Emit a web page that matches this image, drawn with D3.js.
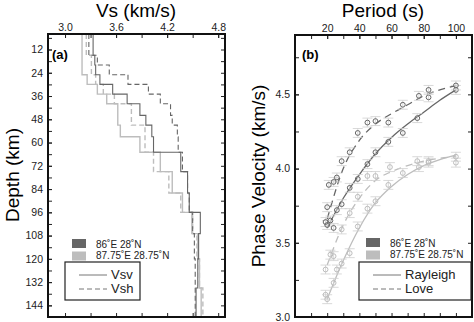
<!DOCTYPE html>
<html>
<head>
<meta charset="utf-8">
<script src="https://cdn.jsdelivr.net/npm/d3@7"></script>
<style>
body { margin: 0; background: #fff; }
svg { font-family: "Liberation Sans", Arial, sans-serif; }
</style>
</head>
<body>
<svg width="474" height="322"></svg>
<script>
// ---- panel (a) : Vs profiles (layer tops in km, velocities in km/s)
var layerTops = [4, 15, 20, 25, 30, 35, 40, 46, 51, 57, 65, 75, 86, 96, 107, 120, 135];
var layerBottom = 150;
var vsvSite1 = [3.33, 3.35, 3.36, 3.41, 3.56, 3.73, 3.88, 3.95, 4.02, 4.04, 4.36, 4.44, 4.46, 4.59, 4.57, 4.56, 4.54];
var vshSite1 = [3.28, 3.38, 3.52, 3.74, 3.98, 4.12, 4.24, 4.26, 4.32, 4.33, 4.38, 4.44, 4.46, 4.50, 4.52, 4.53, 4.53];
var vsvSite2 = [3.20, 3.20, 3.20, 3.26, 3.38, 3.49, 3.62, 3.62, 3.65, 3.88, 4.12, 4.26, 4.38, 4.49, 4.56, 4.58, 4.60];
var vshSite2 = [3.25, 3.31, 3.31, 3.36, 3.45, 3.58, 3.78, 3.78, 3.94, 3.94, 4.04, 4.22, 4.36, 4.50, 4.55, 4.58, 4.62];
var vsMajor = [3.0, 3.6, 4.2, 4.8];
var vsMinor = [3.0, 3.3, 3.6, 3.9, 4.2, 4.5, 4.8];
var depthMajor = [12, 24, 36, 48, 60, 72, 84, 96, 108, 120, 132, 144];
var depthMinor = d3.range(6, 150, 6);

// ---- panel (b) : phase velocity dispersion
var loveP1 = [20, 21, 24, 26, 29, 34, 39, 45, 50, 58, 67, 77, 83, 100];
var loveV1 = [3.74, 3.89, 3.91, 3.94, 4.05, 4.11, 4.24, 4.31, 4.32, 4.31, 4.43, 4.49, 4.53, 4.56];
var rayP1 = [19, 20, 22, 24, 26, 29, 34, 39, 45, 50, 58, 67, 76, 83, 100];
var rayV1 = [3.64, 3.62, 3.65, 3.60, 3.72, 3.76, 3.87, 3.93, 4.03, 4.11, 4.18, 4.24, 4.34, 4.48, 4.53];
var loveP2 = [19, 22, 24, 29, 34, 39, 45, 50, 59, 76, 83, 100];
var loveV2 = [3.32, 3.42, 3.41, 3.59, 3.70, 3.81, 3.95, 3.95, 4.01, 4.05, 4.05, 4.08];
var rayP2 = [19, 20, 24, 26, 29, 34, 39, 45, 50, 58, 67, 77, 83, 100];
var rayV2 = [3.15, 3.12, 3.23, 3.32, 3.36, 3.43, 3.61, 3.73, 3.78, 3.89, 3.97, 4.01, 4.04, 4.04];
var phaseErr = 0.03;
// smooth fitted (predicted) curves
var fitP = [20, 30, 40, 50, 60, 70, 80, 90, 100];
var fitLove1 = [3.66, 4.00, 4.19, 4.30, 4.37, 4.43, 4.49, 4.53, 4.56];
var fitRay1 = [3.60, 3.80, 3.96, 4.10, 4.21, 4.30, 4.38, 4.46, 4.53];
var fitLove2 = [3.35, 3.62, 3.80, 3.92, 3.98, 4.02, 4.05, 4.07, 4.08];
var fitRay2 = [3.12, 3.38, 3.60, 3.77, 3.88, 3.96, 4.02, 4.06, 4.09];
var periodMajor = [20, 40, 60, 80, 100];
var periodMinor = d3.range(10, 110, 10);
var phaseMajor = [3.0, 3.5, 4.0, 4.5];
var phaseMinor = [3.0, 3.25, 3.5, 3.75, 4.0, 4.25, 4.5, 4.75];

var siteLabels = ["86˚E 28˚N", "87.75˚E 28.75˚N"];
var dark = "#666", light = "#bdbdbd";

var svg = d3.select("svg");

function frame(g, x, y, xMaj, xMin, yMaj, yMin, xFmt, yFmt) {
    var x0 = x.range()[0], x1 = x.range()[1];
    var y0 = d3.min(y.range()), y1 = d3.max(y.range());
    g.append("g").attr("transform", "translate(0," + y0 + ")")
        .call(d3.axisTop(x).tickValues(xMin).tickSize(-4).tickFormat(""));
    g.append("g").attr("transform", "translate(0," + y0 + ")")
        .call(d3.axisTop(x).tickValues(xMaj).tickSize(-4).tickPadding(3).tickFormat(xFmt));
    g.append("g").attr("transform", "translate(0," + y1 + ")")
        .call(d3.axisBottom(x).tickValues(xMin).tickSize(-4).tickFormat(""));
    g.append("g").attr("transform", "translate(" + x0 + ",0)")
        .call(d3.axisLeft(y).tickValues(yMin).tickSize(-4).tickFormat(""));
    g.append("g").attr("transform", "translate(" + x0 + ",0)")
        .call(d3.axisLeft(y).tickValues(yMaj).tickSize(-4).tickPadding(5).tickFormat(yFmt));
    g.append("g").attr("transform", "translate(" + x1 + ",0)")
        .call(d3.axisRight(y).tickValues(yMin).tickSize(-4).tickFormat(""));
    g.selectAll(".domain").remove();
    g.selectAll(".tick line").attr("stroke", "#222");
    g.selectAll(".tick text").attr("font-size", 10.5).attr("fill", "#222")
        .attr("font-family", "Liberation Sans, Arial, sans-serif");
    g.append("rect").attr("x", x0).attr("y", y0)
        .attr("width", x1 - x0).attr("height", y1 - y0)
        .attr("fill", "none").attr("stroke", "#111").attr("stroke-width", 2);
}

function legend(g, sx, sy, bx, by, bw, labels) {
    [dark, light].forEach(function(c, i) {
        g.append("rect").attr("x", sx).attr("y", sy + i * 12.5)
            .attr("width", 14).attr("height", 9).attr("fill", c);
        g.append("text").attr("x", sx + 24).attr("y", sy + 8.5 + i * 11)
            .attr("font-size", 10).attr("fill", "#222").text(siteLabels[i]);
    });
    g.append("rect").attr("x", bx).attr("y", by).attr("width", bw).attr("height", 38)
        .attr("fill", "#fff").attr("stroke", "#222").attr("stroke-width", 1.2);
    labels.forEach(function(t, i) {
        g.append("line").attr("x1", bx + 14).attr("x2", bx + 42)
            .attr("y1", by + 13 + i * 14).attr("y2", by + 13 + i * 14)
            .attr("stroke", "#777").attr("stroke-width", 1)
            .attr("stroke-dasharray", i ? "5,3" : null);
        g.append("text").attr("x", bx + 46).attr("y", by + 17 + i * 14)
            .attr("font-size", 13).attr("fill", "#222").text(t);
    });
}

// ---------------- panel (a)
var xA = d3.scaleLinear().domain([2.8, 4.88]).range([48, 225]);
var yA = d3.scaleLinear().domain([4, 150]).range([34, 317]);
var gA = svg.append("g");

var profLine = d3.line().x(function(d) { return xA(d[0]); }).y(function(d) { return yA(d[1]); });
function steps(vals) {
    var pts = [];
    vals.forEach(function(v, i) {
        var bot = i + 1 < layerTops.length ? layerTops[i + 1] : layerBottom;
        pts.push([v, layerTops[i]], [v, bot]);
    });
    return pts;
}
[[vsvSite2, light, null, 1.4], [vshSite2, light, "5,3", 1.4],
 [vsvSite1, dark, null, 1.1], [vshSite1, dark, "5,3", 1.1]].forEach(function(p) {
    gA.append("path").attr("d", profLine(steps(p[0])))
        .attr("fill", "none").attr("stroke", p[1]).attr("stroke-width", p[3])
        .attr("stroke-dasharray", p[2]);
});
frame(gA, xA, yA, vsMajor, vsMinor, depthMajor, depthMinor, d3.format(".1f"), d3.format("d"));
legend(gA, 72, 239, 65, 262, 75, ["Vsv", "Vsh"]);
gA.append("text").attr("x", 52).attr("y", 59).attr("font-size", 13).attr("font-weight", "bold").text("(a)");
gA.append("text").attr("x", 136).attr("y", 17).attr("text-anchor", "middle").attr("font-size", 19).text("Vs (km/s)");
gA.append("text").attr("transform", "translate(19,175) rotate(-90)")
    .attr("text-anchor", "middle").attr("font-size", 19).text("Depth (km)");

// ---------------- panel (b)
var xB = d3.scaleLinear().domain([0, 110]).range([295, 472]);
var yB = d3.scaleLinear().domain([3.0, 4.9]).range([317, 35]);
var gB = svg.append("g");

var fitLine = d3.line().curve(d3.curveMonotoneX)
    .x(function(d) { return xB(d[0]); }).y(function(d) { return yB(d[1]); });
[[fitRay2, light, null], [fitLove2, light, "7,5"], [fitRay1, dark, null], [fitLove1, dark, "7,5"]].forEach(function(f) {
    gB.append("path").attr("d", fitLine(d3.zip(fitP, f[0])))
        .attr("fill", "none").attr("stroke", f[1]).attr("stroke-width", 1.3)
        .attr("stroke-dasharray", f[2]);
});

[[rayP2, rayV2, light], [loveP2, loveV2, light], [rayP1, rayV1, dark], [loveP1, loveV1, dark]].forEach(function(s) {
    var pts = d3.zip(s[0], s[1]);
    var eb = gB.append("g").attr("stroke", "#cfcfcf").attr("stroke-width", 0.8);
    pts.forEach(function(d) {
        var cx = xB(d[0]), top = yB(d[1] + phaseErr), bot = yB(d[1] - phaseErr);
        eb.append("line").attr("x1", cx).attr("x2", cx).attr("y1", top).attr("y2", bot);
        eb.append("line").attr("x1", cx - 5).attr("x2", cx + 5).attr("y1", top).attr("y2", top);
        eb.append("line").attr("x1", cx - 5).attr("x2", cx + 5).attr("y1", bot).attr("y2", bot);
    });
    gB.append("g").selectAll("circle").data(pts).enter().append("circle")
        .attr("cx", function(d) { return xB(d[0]); })
        .attr("cy", function(d) { return yB(d[1]); })
        .attr("r", 2.4).attr("fill", "none").attr("stroke", s[2]).attr("stroke-width", 1);
});

frame(gB, xB, yB, periodMajor, periodMinor, phaseMajor, phaseMinor, d3.format("d"), d3.format(".1f"));
legend(gB, 366, 238, 359, 262, 112, ["Rayleigh", "Love"]);
gB.append("text").attr("x", 302).attr("y", 59).attr("font-size", 13).attr("font-weight", "bold").text("(b)");
gB.append("text").attr("x", 383).attr("y", 17).attr("text-anchor", "middle").attr("font-size", 19).text("Period (s)");
gB.append("text").attr("transform", "translate(265,176) rotate(-90)")
    .attr("text-anchor", "middle").attr("font-size", 19).text("Phase Velocity (km/s)");
</script>
</body>
</html>
